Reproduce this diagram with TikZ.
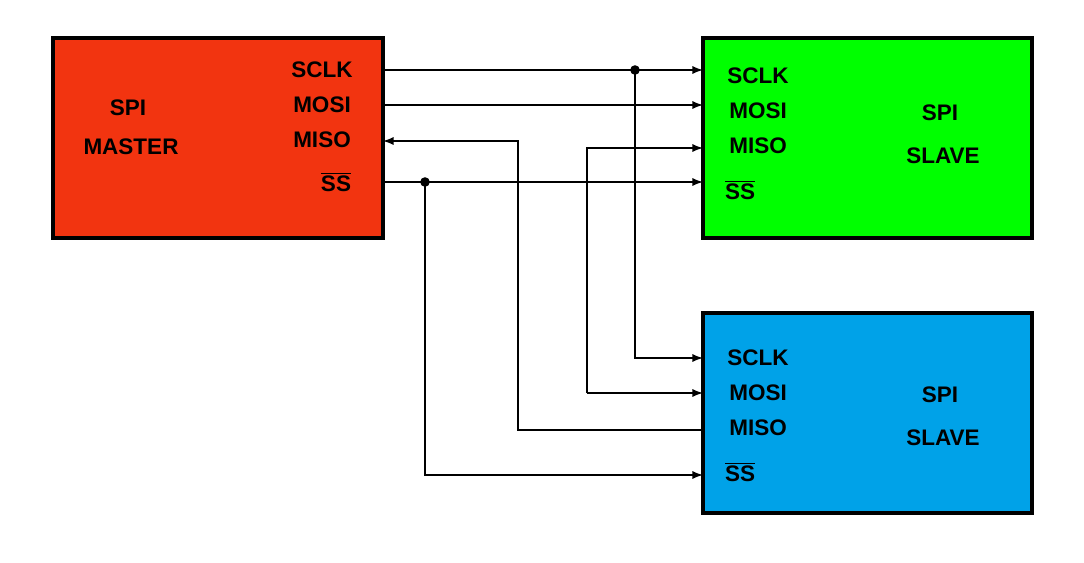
\documentclass[tikz,border=0pt]{standalone}
\usepackage{fontspec}
\setmainfont{Liberation Sans}
\definecolor{masterred}{HTML}{F23410}
\definecolor{slavegreen}{HTML}{00FF00}
\definecolor{slaveblue}{HTML}{00A2E8}
\tikzset{
  box/.style={draw=black, line width=1.1mm},
  pin/.style={font=\fontsize{16}{18}\selectfont\bfseries, inner sep=0pt},
  wire/.style={line width=0.55mm, -latex},
  dot/.style={circle, fill=black, inner sep=0pt, minimum size=2.4mm},
}
\begin{document}
\begin{tikzpicture}[x=0.025cm, y=-0.025cm]
  \useasboundingbox (0,0) rectangle (1084,563);
  % Boxes
  \filldraw[box, fill=masterred] (53,38) rectangle (383,238);
  \filldraw[box, fill=slavegreen] (703,38) rectangle (1032,238);
  \filldraw[box, fill=slaveblue] (703,313) rectangle (1032,513);

  % Master labels
  \node[pin] (mspi) at (128,108) {SPI};
  \node[pin] (mname) at (131,147) {MASTER};
  \node[pin] (msclk) at (322,70) {SCLK};
  \node[pin] (mmosi) at (322,105) {MOSI};
  \node[pin] (mmiso) at (322,140) {MISO};
  \node[pin] (mss) at (336,182) {$\overline{\mbox{SS}}$};

  % Slave labels
  \foreach \n/\y in {a/0, b/282} {
    \node[pin] (\n sclk) at (758,76+\y) {SCLK};
    \node[pin] (\n mosi) at (758,111+\y) {MOSI};
    \node[pin] (\n miso) at (758,146+\y) {MISO};
    \node[pin] (\n ss) at (740,190+\y) {$\overline{\mbox{SS}}$};
    \node[pin] (\n spi) at (940,113+\y) {SPI};
    \node[pin] (\n name) at (943,156+\y) {SLAVE};
  }

  % Wire ends
  \coordinate (m1) at (383,70);
  \coordinate (m2) at (383,105);
  \coordinate (m3) at (383,141);
  \coordinate (m4) at (383,182);
  \coordinate (a1) at (703,70);
  \coordinate (a2) at (703,105);
  \coordinate (a3) at (703,148);
  \coordinate (a4) at (703,182);
  \coordinate (b1) at (703,358);
  \coordinate (b2) at (703,393);
  \coordinate (b3) at (703,430);
  \coordinate (b4) at (703,475);
  \node[dot] (clkdot) at (635,70) {};
  \node[dot] (ssdot) at (425,182) {};

  % Wires
  \draw[wire] (m1) -- (a1);
  \draw[wire] (clkdot.center) |- (b1);
  \draw[wire] (m2) -- (a2);
  \draw[wire] (b3) -| (518,141) -- (m3);
  \draw[wire] (587,393) |- (a3);
  \draw[wire] (587,393) -- (b2);
  \draw[wire] (m4) -- (a4);
  \draw[wire] (ssdot.center) |- (b4);
\end{tikzpicture}
\end{document}
